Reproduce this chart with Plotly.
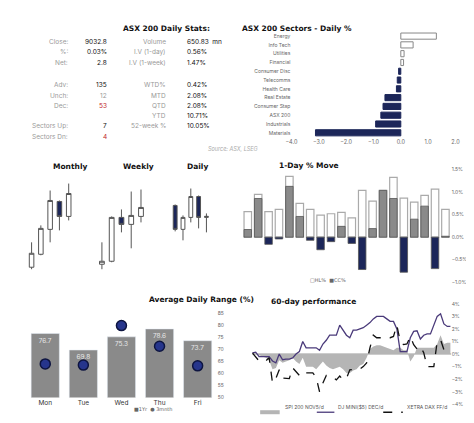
import plotly.graph_objects as go

W, H = 474, 423
def px(x): return x / W
def py(y): return 1 - y / H

# ---------------- data ----------------
stat_labels1 = ["Close:", "%:", "Net:", "Adv:", "Unch:", "Dec:", "Sectors Up:", "Sectors Dn:"]
stat_values1 = ["9032.8", "0.03%", "2.8", "135", "12", "53", "7", "4"]
stat_rows1 = [25, 36, 47, 69, 80, 90, 111, 122]
stat_colors1 = ["#111", "#111", "#111", "#111", "#999", "#c0282d", "#111", "#c0282d"]
stat_labels2 = ["Volume", "I.V (1-day)", "I.V (1-week)", "WTD%", "MTD", "QTD", "YTD", "52-week %"]
stat_values2 = ["650.83  mn", "0.56%", "1.47%", "0.42%", "2.08%", "2.08%", "10.71%", "10.05%"]
stat_rows2 = [25, 36, 47, 69, 80, 90, 100, 111]

sectors = ["Energy", "Info Tech", "Utilities", "Financial", "Consumer Disc", "Telecomms",
           "Health Care", "Real Estate", "Consumer Stap", "ASX 200", "Industrials", "Materials"]
sector_vals = [1.3, 0.45, 0.12, 0.1, -0.08, -0.13, -0.16, -0.58, -0.65, -0.73, -0.92, -3.12]

m_open = [38, 51, 76, 104, 89]; m_high = [63, 80, 115, 105, 122]
m_low = [36, 50, 63, 75, 85]; m_close = [52, 77, 105, 89, 112]
w_open = [41, 44, 88, 81, 89]; w_high = [63, 89, 96, 114, 116]
w_low = [36, 43, 73, 57, 83]; w_close = [44, 88, 81, 90, 98]
d_open = [100, 76, 88, 109, 88]; d_high = [101, 90, 117, 110, 92]
d_low = [74, 65, 83, 77, 73]; d_close = [76, 88, 109, 88, 89]

hl_pct = [0.57, 0.95, 0.57, 0.62, 1.35, 0.75, 0.62, 0.49, 0.52, 0.55,
          0.43, 1.04, 0.80, 1.04, 1.33, 0.87, 0.78, 0.93, 1.07, 0.62]
cc_pct = [0.17, 0.86, -0.16, -0.04, 1.13, 0.46, -0.07, -0.28, -0.10, 0.24,
          -0.14, -0.72, 0.19, 1.04, 0.86, -0.78, 0.40, 0.69, -0.70, 0.02]

days = ["Mon", "Tue", "Wed", "Thu", "Fri"]
adr_1yr = [76.7, 69.8, 75.3, 78.6, 73.7]
adr_3m = [64.0, 63.5, 80.0, 71.4, 63.2]

spi = [0.1, 0.05, -0.1, -0.2, -0.3, -0.5, -1.2, -1.1, -0.5, -0.7, -0.6, -0.5, -0.3, -0.6, -0.8,
       -0.3, -1.0, -1.0, -1.0, -1.2, -0.9, -0.6, -0.9, -1.1, -1.2, -1.1, -1.0, -1.2, -1.5, -1.5,
       -1.3, -1.2, -0.9, -0.8, -0.3, 0.4, 0.6, 0.7, 0.7, 0.6, 0.5, 0.4, 0.3, 0.5, 0.5,
       0.3, 0.3, -0.6, -0.2, 0.5, 0.5, 0.5, 0.5, 0.5, 0.5, 0.8, 1.5, 0.8, 0.9, 0.9]
dj = [0.1, 0.15, -0.2, -0.2, -0.2, -0.2, -0.55, -0.7, 0.0, -0.45, -0.4, -0.4, -0.3, 0.0, 0.2,
      1.0, 0.5, 0.5, 0.5, 0.5, 0.3, 0.8, 1.1, 1.5, 1.5, 1.5, 2.3, 1.9, 1.5, 1.3,
      1.9, 1.9, 2.0, 2.1, 2.3, 2.5, 2.8, 3.0, 3.0, 3.0, 2.8, 2.6, 2.6, 2.0, 0.2,
      0.2, 0.2, 1.3, 1.8, 1.85, 1.2, 1.5, 1.6, 1.6, 2.3, 3.0, 3.2, 2.4, 2.2, 2.2]
dax = [0.1, -0.2, -0.55, -0.6, -0.55, -0.3, -2.3, -1.95, -1.25, -1.9, -1.95, -1.95, -1.1, -1.4, -1.7,
       -1.4, -1.5, -1.5, -1.5, -1.85, -3.0, -2.3, -1.7, -1.75, -1.85, -2.05, -1.75, -2.05, -1.95, -1.25,
       -1.25, -1.25, -1.2, -1.0, -0.7, 0.5, 1.5, 1.3, 1.3, 1.3, 1.3, 1.3, 1.4, 2.3, 1.0,
       0.75, 0.8, 1.4, 0.75, 0.4, 0.6, 0.1, -1.0, -1.0, -1.0, 1.0, 1.15, 0.35, 0.35, 0.3]

NAVY = "#1c2659"
GREY = "#8a8a8a"
FONT = "Inter"
TFONT = dict(family="DejaVu Sans", size=7.5, color="#111")

fig = go.Figure()

fig.add_trace(go.Bar(y=sectors, x=sector_vals, orientation="h", xaxis="x", yaxis="y",
                     marker=dict(color=["white" if v > 0 else NAVY for v in sector_vals],
                                 line=dict(color=["#888" if v > 0 else NAVY for v in sector_vals], width=1)),
                     width=0.7, showlegend=False))

for (o, h, l, c, ax) in [(m_open, m_high, m_low, m_close, "2"),
                         (w_open, w_high, w_low, w_close, "3"),
                         (d_open, d_high, d_low, d_close, "4")]:
    fig.add_trace(go.Candlestick(x=list(range(5)), open=o, high=h, low=l, close=c,
                                 xaxis="x" + ax, yaxis="y" + ax, showlegend=False, whiskerwidth=0,
                                 increasing=dict(fillcolor="white", line=dict(color="#555", width=1)),
                                 decreasing=dict(fillcolor=NAVY, line=dict(color="#555", width=1))))

xi = list(range(len(hl_pct)))
fig.add_trace(go.Bar(x=xi, y=hl_pct, xaxis="x5", yaxis="y5", width=0.72,
                     marker=dict(color="white", line=dict(color="#aaa", width=1.2)), showlegend=False))
fig.add_trace(go.Bar(x=xi, y=cc_pct, xaxis="x5", yaxis="y5", width=0.72,
                     marker=dict(color=[GREY if v > 0 else NAVY for v in cc_pct],
                                 line=dict(color="#555", width=0.8)), showlegend=False))

fig.add_trace(go.Bar(x=days, y=adr_1yr, xaxis="x6", yaxis="y6", width=0.74, marker_color=GREY,
                     text=[f"{v:.1f}" for v in adr_1yr], textposition="inside", insidetextanchor="end",
                     textfont=dict(color="#e8e8e8", size=6.5), showlegend=False))
fig.add_trace(go.Scatter(x=days, y=adr_3m, xaxis="x6", yaxis="y6", mode="markers",
                         marker=dict(size=10, color="#26358c", line=dict(color="#0d1440", width=1.5)),
                         showlegend=False))

t = list(range(len(spi)))
fig.add_trace(go.Scatter(x=t, y=spi, xaxis="x7", yaxis="y7", fill="tozeroy", mode="lines",
                         line=dict(width=0, color="#b5b5b5"), fillcolor="#b5b5b5", showlegend=False))
fig.add_trace(go.Scatter(x=t, y=dj, xaxis="x7", yaxis="y7", mode="lines",
                         line=dict(color="#4a3a7a", width=1.3), showlegend=False))
fig.add_trace(go.Scatter(x=t, y=dax, xaxis="x7", yaxis="y7", mode="lines",
                         line=dict(color="#111", width=1.3, dash="dash"), showlegend=False))

tickf = dict(family=FONT, size=5.5, color="#666")
layout = dict(
    width=W, height=H, margin=dict(l=0, r=0, t=0, b=0), paper_bgcolor="white", plot_bgcolor="white",
    font=dict(family=FONT), barmode="overlay",
    xaxis=dict(domain=[px(284), px(452)], anchor="y", range=[-4, 2], dtick=1, tickformat=".1f",
               showgrid=False, zeroline=False, tickfont=tickf, ticks=""),
    yaxis=dict(domain=[py(128), py(21)], anchor="x", autorange="reversed", tickfont=dict(family=FONT, size=5, color="#666"),
               showgrid=False, ticks="", showline=False),
    xaxis2=dict(domain=[px(10.4), px(63.6)], anchor="y2", range=[-0.8, 4.8], rangeslider=dict(visible=False), visible=False),
    yaxis2=dict(domain=[py(268), py(172)], anchor="x2", range=[30, 125], visible=False),
    xaxis3=dict(domain=[px(82), px(138)], anchor="y3", range=[-0.8, 4.8], rangeslider=dict(visible=False), visible=False),
    yaxis3=dict(domain=[py(268), py(172)], anchor="x3", range=[30, 125], visible=False),
    xaxis4=dict(domain=[px(158.6), px(203.4)], anchor="y4", range=[-0.8, 4.8], rangeslider=dict(visible=False), visible=False),
    yaxis4=dict(domain=[py(268), py(172)], anchor="x4", range=[30, 125], visible=False),
    xaxis5=dict(domain=[px(234), px(447)], anchor="y5", range=[-0.5, 19.5], visible=False),
    yaxis5=dict(domain=[py(275), py(161)], anchor="x5", range=[-1, 1.5], side="right", dtick=0.5,
                tickformat=".1f", ticksuffix="%", showgrid=False, zeroline=False, tickfont=dict(family=FONT, size=5, color="#666")),
    xaxis6=dict(domain=[px(12.5), px(207.5)], anchor="y6", showgrid=False, tickfont=dict(family=FONT, size=6.5, color="#333"), ticks=""),
    yaxis6=dict(domain=[py(392), py(307)], anchor="x6", range=[50, 85], side="right", dtick=5,
                showgrid=False, zeroline=False, tickfont=dict(family=FONT, size=5, color="#666")),
    xaxis7=dict(domain=[px(244), px(447)], anchor="y7", range=[0, 59], visible=False),
    yaxis7=dict(domain=[py(399), py(297)], anchor="x7", range=[-4, 4], side="right", dtick=1,
                ticksuffix="%", showgrid=False, zeroline=True, zerolinecolor="#ccc",
                tickfont=dict(family=FONT, size=5, color="#666")),
)
fig.update_layout(**layout)

ann = []
def A(x, y, text, **kw):
    d = dict(x=px(x), y=py(y), xref="paper", yref="paper", text=text, showarrow=False,
             font=kw.pop("font", dict(family=FONT, size=7, color="#111")))
    d.update(kw)
    ann.append(d)

A(110, 11, "<b>ASX 200 Daily Stats:</b>", font=dict(family="DejaVu Sans", size=7.5, color="#111"))
for lab, val, r, c in zip(stat_labels1, stat_values1, stat_rows1, stat_colors1):
    A(57, r, lab, xanchor="right", font=dict(family=FONT, size=6.5, color="#999"))
    A(97, r, val, xanchor="right", font=dict(family=FONT, size=6.5, color=c))
for lab, val, r in zip(stat_labels2, stat_values2, stat_rows2):
    A(158, r, lab, xanchor="right", font=dict(family=FONT, size=6.5, color="#999"))
    A(175, r, val, xanchor="left", font=dict(family=FONT, size=6.5, color="#111"))
A(252, 135, "<i>Source: ASX, LSEG</i>", xanchor="right", font=dict(family=FONT, size=5.5, color="#aaa"))
A(348, 11, "<b>ASX 200 Sectors - Daily %</b>", font=TFONT)
A(38, 158, "<b>Monthly</b>", font=dict(family="DejaVu Sans", size=7.5, color="#111"))
A(110, 158, "<b>Weekly</b>", font=dict(family="DejaVu Sans", size=7.5, color="#111"))
A(188, 158, "<b>Daily</b>", font=dict(family="DejaVu Sans", size=7.5, color="#111"))
A(335, 157, "<b>1-Day % Move</b>", font=TFONT)
A(342, 273, "□HL%  ■CC%", font=dict(family="DejaVu Sans", size=5, color="#666"))
A(136, 299, "<b>Average Daily Range (%)</b>", font=TFONT)
A(121, 409, "■1Yr  ● 3mnth", font=dict(family="DejaVu Sans", size=5, color="#666"))
A(352, 301, "<b>60-day performance</b>", font=TFONT)
A(275, 407, "SPI 200 NOV5/d", xanchor="left", font=dict(family=FONT, size=5, color="#555"))
A(330, 407, "DJ MINI($5) DEC/d", xanchor="left", font=dict(family=FONT, size=5, color="#555"))
A(400, 407, "XETRA DAX FF/d", xanchor="left", font=dict(family=FONT, size=5, color="#555"))
fig.update_layout(annotations=ann)

shapes = [
    dict(type="line", xref="paper", yref="paper", x0=px(252), x1=px(272), y0=py(407), y1=py(407),
         line=dict(color="#b5b5b5", width=4)),
    dict(type="line", xref="paper", yref="paper", x0=px(310), x1=px(328), y0=py(407), y1=py(407),
         line=dict(color="#4a3a7a", width=1.3)),
    dict(type="line", xref="paper", yref="paper", x0=px(378), x1=px(398), y0=py(407), y1=py(407),
         line=dict(color="#111", width=1.3, dash="dash")),
]
fig.update_layout(shapes=shapes)

fig.write_html("out.html")
